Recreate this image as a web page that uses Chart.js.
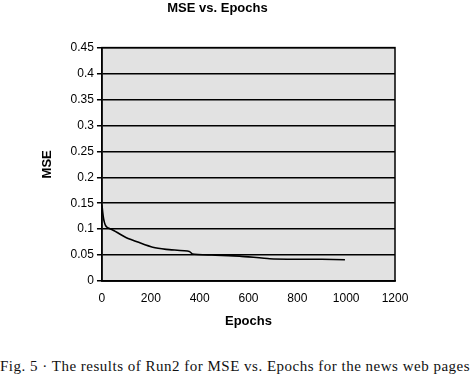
<!DOCTYPE html>
<html>
<head>
<meta charset="utf-8">
<script src="https://cdn.jsdelivr.net/npm/chart.js"></script>
<style>
  html, body { margin: 0; padding: 0; background: #fff; }
  #wrap { position: relative; width: 474px; height: 388px; overflow: hidden; }
  #caption {
    position: absolute; left: 0; top: 358px; white-space: nowrap; letter-spacing: 0.5px;
    font-family: "Liberation Serif", "Times New Roman", serif; font-size: 15px; color: #111;
  }
</style>
</head>
<body>
<div id="wrap">
  <canvas id="line-chart" width="474" height="350"></canvas>
  <div id="caption">Fig. 5 · The results of Run2 for MSE vs. Epochs for the news web pages</div>
</div>
<script>
// MSE curve
var epochs = [0, 5, 10, 16, 23, 50, 71, 98, 153, 208, 263, 358, 371, 450, 564, 687, 800, 900, 995];
var mse = [0.146, 0.125, 0.113, 0.106, 0.103, 0.097, 0.091, 0.084, 0.074, 0.065, 0.061, 0.057, 0.052, 0.050, 0.048, 0.043, 0.042, 0.042, 0.041];
var xTicks = [0, 200, 400, 600, 800, 1000, 1200];
var yTicks = [0, 0.05, 0.1, 0.15, 0.2, 0.25, 0.3, 0.35, 0.4, 0.45];

var points = epochs.map(function (e, i) { return { x: e, y: mse[i] }; });

// grey plot background and the box round it
var plotBox = {
  id: 'plotBox',
  beforeDraw: function (chart) {
    var a = chart.chartArea, ctx = chart.ctx;
    ctx.save();
    ctx.fillStyle = '#e2e2e2';
    ctx.fillRect(a.left, a.top, a.right - a.left, a.bottom - a.top);
    ctx.restore();
  },
  afterDraw: function (chart) {
    var a = chart.ctx, c = chart.chartArea;
    a.save();
    a.strokeStyle = '#000';
    a.lineWidth = 1.5;
    a.strokeRect(c.left, c.top, c.right - c.left, c.bottom - c.top);
    a.restore();
  }
};

var font = { family: 'Liberation Sans, Arial, sans-serif', size: 12 };

new Chart(document.getElementById('line-chart'), {
  type: 'line',
  data: {
    datasets: [{
      label: 'MSE',
      data: points,
      borderColor: '#000',
      borderWidth: 1.6,
      pointRadius: 0,
      fill: false,
      tension: 0.2
    }]
  },
  options: {
    responsive: false,
    animation: false,
    layout: { padding: { left: 40, right: 79, top: 0, bottom: 21 } },
    plugins: {
      legend: { display: false },
      tooltip: { enabled: false },
      title: {
        display: true,
        text: 'MSE vs. Epochs',
        color: '#000',
        font: { family: font.family, size: 13, weight: 'bold' },
        padding: { top: 1, bottom: 31 }
      }
    },
    scales: {
      x: {
        type: 'linear',
        min: 0, max: 1200,
        afterBuildTicks: function (s) { s.ticks = xTicks.map(function (v) { return { value: v }; }); },
        grid: { display: false, drawTicks: true, tickLength: 4 },
        border: { display: true, color: '#000', width: 1.5 },
        ticks: {
          color: '#000', font: font, padding: 6, maxRotation: 0,
          callback: function (v) { return String(v); }
        },
        title: {
          display: true, text: 'Epochs', color: '#000',
          font: { family: font.family, size: 13, weight: 'bold' },
          padding: { top: 2, bottom: 0 }
        }
      },
      y: {
        min: 0, max: 0.45,
        afterBuildTicks: function (s) { s.ticks = yTicks.map(function (v) { return { value: v }; }); },
        grid: { color: '#000', lineWidth: 1.5, drawTicks: true, tickLength: 5 },
        border: { display: true, color: '#000', width: 1.5 },
        ticks: {
          color: '#000', font: font, padding: 3,
          callback: function (v) { return String(Math.round(v * 100) / 100); }
        },
        title: {
          display: true, text: 'MSE', color: '#000',
          font: { family: font.family, size: 13, weight: 'bold' },
          padding: { top: 0, bottom: 12 }
        }
      }
    }
  },
  plugins: [plotBox]
});
</script>
</body>
</html>
